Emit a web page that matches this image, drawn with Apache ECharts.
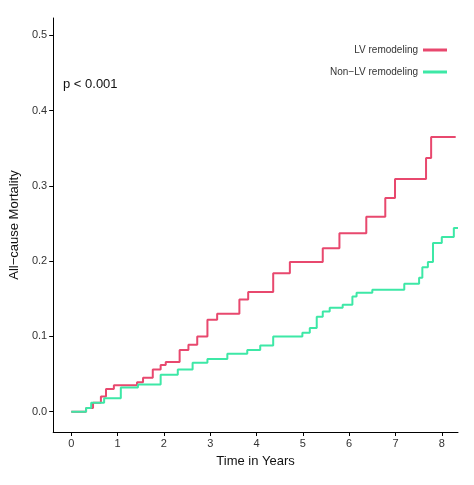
<!DOCTYPE html><html><head><meta charset="utf-8"><script src="https://cdn.jsdelivr.net/npm/echarts@6/dist/echarts.min.js"></script></head><body style="margin:0"><div id="c" style="width:474px;height:485px"></div><script>
const lvTime=[0,0.32,0.47,0.64,0.75,0.92,1.42,1.55,1.76,1.93,2.04,2.34,2.53,2.72,2.94,3.15,3.63,3.82,4.36,4.72,5.43,5.79,6.37,6.78,6.99,7.66,7.77,8.3];
const lvVal=[0,0.005,0.012,0.02,0.03,0.035,0.039,0.045,0.056,0.062,0.066,0.082,0.089,0.1,0.122,0.13,0.149,0.159,0.184,0.199,0.217,0.237,0.259,0.284,0.309,0.337,0.365,0.365];
const nonTime=[0,0.32,0.43,0.71,1.07,1.44,1.93,2.30,2.62,2.94,3.37,3.80,4.08,4.36,4.99,5.15,5.30,5.43,5.58,5.86,6.07,6.16,6.50,7.19,7.51,7.58,7.70,7.81,8.0,8.26,8.35];
const nonVal=[0,0.005,0.012,0.018,0.032,0.036,0.049,0.056,0.065,0.07,0.077,0.082,0.088,0.1,0.105,0.111,0.126,0.133,0.138,0.142,0.153,0.158,0.162,0.17,0.178,0.192,0.199,0.224,0.232,0.244,0.244];
const xTicks=[0,1,2,3,4,5,6,7,8];
const yTicks=[0,0.1,0.2,0.3,0.4,0.5];
const zip=(a,b)=>a.map((t,i)=>[t,b[i]]);
const ch=echarts.init(document.getElementById('c'));
ch.setOption({animation:false,
grid:{left:52,right:16,top:18,bottom:53},
legend:{top:40,right:22,orient:'vertical',align:'right',itemGap:12,itemWidth:24,itemHeight:3,icon:'rect',textStyle:{fontSize:10,color:'#333',fontFamily:'Liberation Sans'},data:['LV remodeling','Non−LV remodeling']},
graphic:[{type:'text',left:63,top:78,style:{text:'p < 0.001',fontSize:13,fill:'#111',fontFamily:'Liberation Sans'}}],
xAxis:{type:'value',min:-0.39,max:8.35,name:'Time in Years',nameLocation:'middle',nameGap:23,nameTextStyle:{fontSize:13,color:'#111',fontFamily:'Liberation Sans'},
axisLine:{onZero:false,lineStyle:{color:'#000',width:1}},splitLine:{show:false},axisTick:{customValues:xTicks,length:4,lineStyle:{color:'#000'}},axisLabel:{customValues:xTicks,color:'#333',fontSize:11,margin:6,fontFamily:'Liberation Sans'}},
yAxis:{type:'value',min:-0.027,max:0.523,name:'All−cause Mortality',nameLocation:'middle',nameGap:32,nameTextStyle:{fontSize:13,color:'#111',fontFamily:'Liberation Sans'},
axisLine:{show:true,onZero:false,lineStyle:{color:'#000',width:1}},splitLine:{show:false},axisTick:{show:true,customValues:yTicks,length:4,lineStyle:{color:'#000'}},axisLabel:{customValues:yTicks,formatter:v=>v.toFixed(1),color:'#333',fontSize:11,margin:6,fontFamily:'Liberation Sans'}},
series:[
{name:'LV remodeling',type:'line',step:'end',symbol:'none',data:zip(lvTime,lvVal),lineStyle:{color:'#e8486e',width:2},itemStyle:{color:'#e8486e'}},
{name:'Non−LV remodeling',type:'line',step:'end',symbol:'none',data:zip(nonTime,nonVal),lineStyle:{color:'#3de8a6',width:2},itemStyle:{color:'#3de8a6'}}
]});
</script></body></html>
